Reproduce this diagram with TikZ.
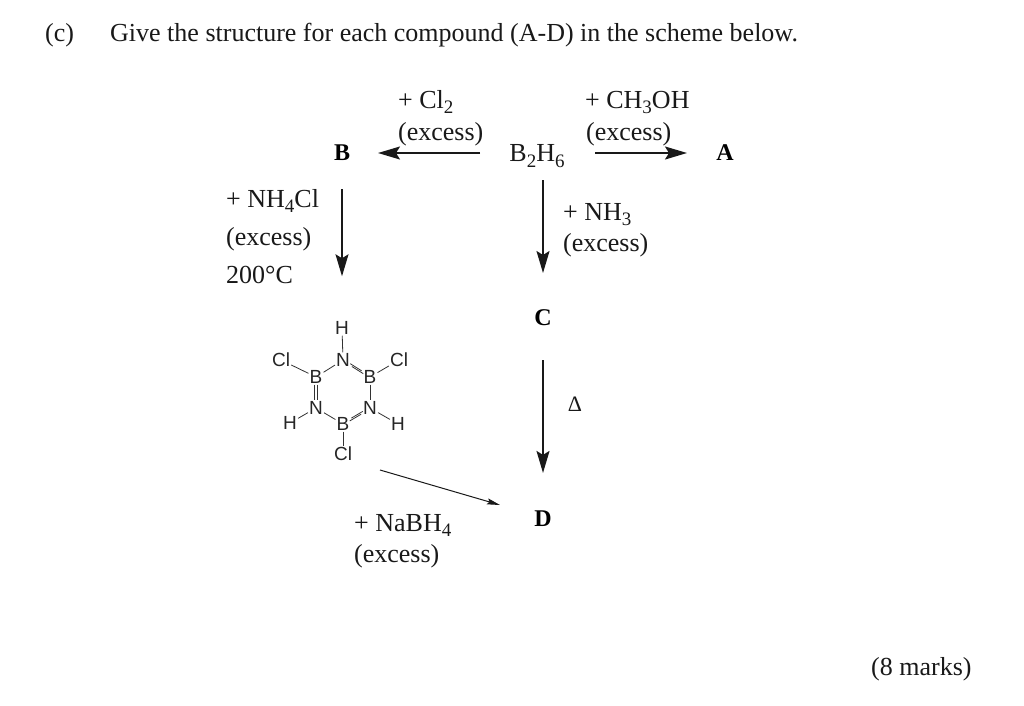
\documentclass[tikz,border=0pt]{standalone}
\usepackage{fontspec}
\setmainfont{Liberation Serif}
\newfontfamily\ringfont{Liberation Sans}
\usetikzlibrary{arrows.meta}
\newcommand\subs[1]{\raisebox{-0.2em}{\fontsize{19}{19}\selectfont #1}}
\tikzset{
  txt/.style={anchor=base west,inner sep=0pt,font=\fontsize{26}{26}\selectfont,text=black!90},
  lbl/.style={anchor=base,inner sep=0pt,font=\fontsize{26}{26}\selectfont,text=black!90},
  cmpd/.style={anchor=center,inner sep=0pt,font=\fontsize{24}{24}\selectfont\bfseries,text=black},
  atom/.style={anchor=center,inner sep=1pt,font=\fontsize{19}{19}\selectfont\ringfont,text=black!85},
  bigarr/.style={draw=black!90,line width=1.6pt,-{Stealth[length=22pt,width=13pt,inset=4pt]}},
  smallarr/.style={draw=black!90,line width=1pt,-{Stealth[length=13pt,width=6pt,inset=2pt]}},
  bond/.style={draw=black!80,line width=0.8pt},
}
\begin{document}
\begin{tikzpicture}[x=1pt,y=-1pt]
\useasboundingbox (0,0) rectangle (1024,705);
\fill[white] (0,0) rectangle (1024,705);
% heading
\node[txt] (part) at (45,41) {(c)};
\node[txt] (title) at (110,41) {Give the structure for each compound (A-D) in the scheme below.};
\node[txt] (marks) at (871,675) {(8 marks)};
% compounds
\node[lbl,anchor=center] (diborane) at (537,156) {B\subs{2}H\subs{6}};
\node[cmpd] (A) at (725,153) {A};
\node[cmpd] (B) at (342,153) {B};
\node[cmpd] (C) at (543,318) {C};
\node[cmpd] (D) at (543,519) {D};
% reagents
\node[txt] (cl2) at (398,108) {+ Cl\subs{2}};
\node[txt] (ex1) at (398,140) {(excess)};
\node[txt] (meoh) at (585,108) {+ CH\subs{3}OH};
\node[txt] (ex2) at (586,140) {(excess)};
\node[txt] (nh4cl) at (226,207) {+ NH\subs{4}Cl};
\node[txt] (ex3) at (226,245) {(excess)};
\node[txt] (temp) at (226,283) {200°C};
\node[txt] (nh3) at (563,220) {+ NH\subs{3}};
\node[txt] (ex4) at (563,251) {(excess)};
\node[anchor=center,inner sep=0pt,font=\fontsize{22}{22}\selectfont,text=black!90] (delta) at (575,404) {Δ};
\node[txt] (nabh4) at (354,531) {+ NaBH\subs{4}};
\node[txt] (ex5) at (354,562) {(excess)};
% ring atoms
\node[atom] (Htop) at (342,328) {H};
\node[atom] (N1) at (343,360) {N};
\node[atom] (B1) at (316,377) {B};
\node[atom] (B2) at (370,377) {B};
\node[atom] (N2) at (316,408) {N};
\node[atom] (N3) at (370,408) {N};
\node[atom] (B3) at (343,424) {B};
\node[atom] (ClL) at (281,360) {Cl};
\node[atom] (ClR) at (399,360) {Cl};
\node[atom] (ClB) at (343,454) {Cl};
\node[atom] (HL) at (290,423) {H};
\node[atom] (HR) at (398,424) {H};
% ring bonds
\draw[bond] (Htop) -- (N1);
\draw[bond] (B1) -- (N1);
\draw[bond] (B2) -- (N3);
\draw[bond] (N2) -- (B3);
\draw[bond] (ClL) -- (B1);
\draw[bond] (ClR) -- (B2);
\draw[bond] (B3) -- (ClB);
\draw[bond] (HL) -- (N2);
\draw[bond] (HR) -- (N3);
\draw[bond,transform canvas={xshift=-1.6pt}] (B1) -- (N2);
\draw[bond,transform canvas={xshift=1.6pt}] (B1) -- (N2);
\draw[bond,transform canvas={xshift=0.8pt,yshift=-1.4pt}] (N1) -- (B2);
\draw[bond,transform canvas={xshift=-0.8pt,yshift=1.4pt}] (N1) -- (B2);
\draw[bond,transform canvas={xshift=-0.8pt,yshift=-1.4pt}] (B3) -- (N3);
\draw[bond,transform canvas={xshift=0.8pt,yshift=1.4pt}] (B3) -- (N3);
% reaction arrows
\coordinate (ringout) at (380,470);
\coordinate (dtail) at (500,505);
\coordinate (bl) at (480,153);
\coordinate (bend) at (378,153);
\coordinate (ar) at (595,153);
\coordinate (aend) at (687,153);
\coordinate (ntop) at (543,180);
\coordinate (nend) at (543,273);
\draw[bigarr] (bl) -- (bend);
\draw[bigarr] (ar) -- (aend);
\draw[bigarr] (ntop) -- (nend);
\draw[bigarr,shorten <=28pt,shorten >=44pt] (B) -- (Htop);
\draw[bigarr,shorten <=34pt,shorten >=38pt] (C) -- (D);
\draw[smallarr] (ringout) -- (dtail);
\end{tikzpicture}
\end{document}
